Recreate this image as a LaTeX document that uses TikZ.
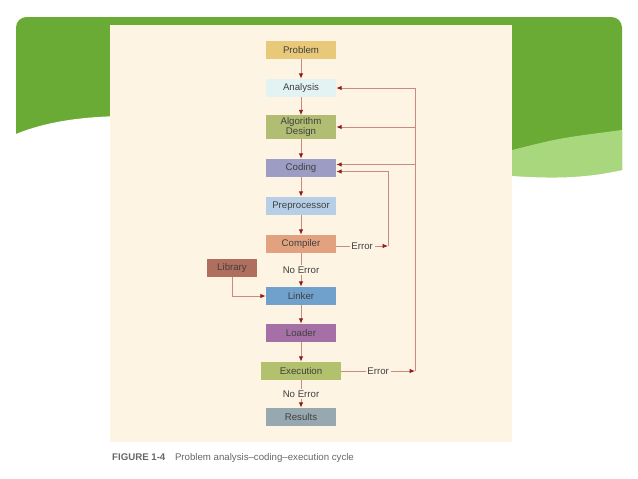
\documentclass[tikz,border=0pt]{standalone}
\usepackage{fontspec}
\setmainfont{Liberation Sans}
\usetikzlibrary{positioning,arrows.meta}
\definecolor{leaf}{HTML}{6AAB35}
\definecolor{leaflight}{HTML}{A9D77E}
\definecolor{cream}{HTML}{FDF4E3}
\definecolor{wire}{HTML}{C98A80}
\definecolor{tipred}{HTML}{8E1B1B}
\definecolor{cprob}{HTML}{E8C97A}
\definecolor{cana}{HTML}{E3F3F3}
\definecolor{calg}{HTML}{B1BD72}
\definecolor{ccod}{HTML}{9C9CC4}
\definecolor{cpre}{HTML}{B7CFE6}
\definecolor{ccomp}{HTML}{E2A27F}
\definecolor{clib}{HTML}{B06E5E}
\definecolor{clink}{HTML}{6FA1CC}
\definecolor{cload}{HTML}{A570A5}
\definecolor{cexe}{HTML}{B2C16E}
\definecolor{cres}{HTML}{98A8B0}
\tikzset{
  stage/.style={draw=none,minimum width=1.4cm,minimum height=0.36cm,inner sep=1pt,
    align=center,font=\fontsize{5.5}{6}\selectfont\color{black!75}},
  flow/.style={draw=wire,line width=0.5pt,-{Latex[length=3pt,width=2.5pt,color=tipred]}},
  note/.style={fill=cream,inner sep=1pt,font=\fontsize{5.5}{6}\selectfont\color{black!75}}
}
\begin{document}
\begin{tikzpicture}[x=0.02cm,y=-0.02cm]
  \useasboundingbox (0,0) rectangle (638,478);
  % slide background
  \fill[leaf,rounded corners=6pt] (16,17) -- (622,17) -- (622,180) -- (16,180) -- cycle;
  \fill[leaflight] (512,150) .. controls (560,138) .. (622,130) -- (622,182) -- (512,182) -- cycle;
  \fill[white] (16,134) .. controls (50,120) and (90,116) .. (130,116) -- (500,160)
    -- (512,176) .. controls (570,180) and (600,176) .. (640,166) -- (640,200) -- (16,200) -- cycle;
  \fill[cream] (110,25) rectangle (512,442);
  % boxes
  \node[stage,fill=cprob] (prob) at (301,50) {Problem};
  \node[stage,fill=cana] (ana) at (301,88) {Analysis};
  \node[stage,fill=calg,minimum height=0.44cm] (alg) at (301,127) {Algorithm\\Design};
  \node[stage,fill=ccod] (cod) at (301,168) {Coding};
  \node[stage,fill=cpre] (pre) at (301,206) {Preprocessor};
  \node[stage,fill=ccomp] (comp) at (301,244) {Compiler};
  \node[stage,fill=clib,minimum width=1cm] (lib) at (232,268) {Library};
  \node[stage,fill=clink] (link) at (301,296) {Linker};
  \node[stage,fill=cload] (load) at (301,333) {Loader};
  \node[stage,fill=cexe,minimum width=1.6cm] (exe) at (301,371) {Execution};
  \node[stage,fill=cres] (res) at (301,417) {Results};
  \coordinate (outer) at (415,371);
  \coordinate (inner) at (388,246);
  \coordinate (codtop) at ([yshift=2pt]cod.east);
  \coordinate (codlow) at ([yshift=-2pt]cod.east);
  % main chain
  \draw[flow] (prob) -- (ana);
  \draw[flow] (ana) -- (alg);
  \draw[flow] (alg) -- (cod);
  \draw[flow] (cod) -- (pre);
  \draw[flow] (pre) -- (comp);
  \draw[flow] (comp) -- node[note]{No Error} (link);
  \draw[flow] (link) -- (load);
  \draw[flow] (load) -- (exe);
  \draw[flow] (exe) -- node[note]{No Error} (res);
  \draw[flow] (lib.south) |- (link.west);
  % error loops
  \draw[flow] (comp.east |- inner) -- node[note]{Error} (inner);
  \draw[flow] (inner) |- (codlow);
  \draw[flow] (exe.east) -- node[note,pos=0.5]{Error} (outer);
  \draw[draw=wire,line width=0.5pt] (outer) -- (outer |- ana.east);
  \draw[flow] (outer |- ana.east) -- (ana.east);
  \draw[flow] (outer |- alg.east) -- (alg.east);
  \draw[flow] (outer |- codtop) -- (codtop);
  % caption
  \node[anchor=west,font=\fontsize{5.5}{6}\selectfont\color{black!60}] (cap) at (106,458)
    {\textbf{FIGURE 1-4}\quad Problem analysis–coding–execution cycle};
\end{tikzpicture}
\end{document}
